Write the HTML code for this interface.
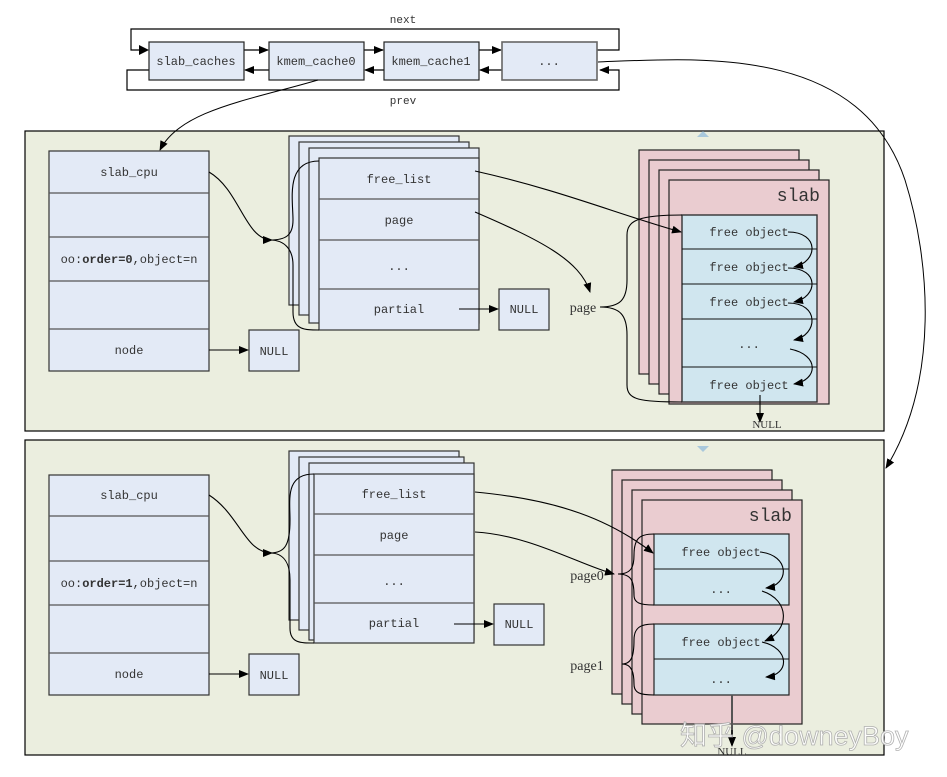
<!DOCTYPE html>
<html><head><meta charset="utf-8"><style>
html,body{margin:0;padding:0;background:#fff}
svg{display:block}
text{font-family:"Liberation Mono","Noto Sans CJK SC",monospace;font-size:12px;fill:#333}
</style></head><body>
<svg width="947" height="777" viewBox="0 0 947 777" xmlns="http://www.w3.org/2000/svg">
<defs>
<marker id="a" markerWidth="10" markerHeight="8" refX="9" refY="4" orient="auto" markerUnits="userSpaceOnUse"><path d="M0,0 L10,4 L0,8 Z" fill="#000"/></marker>
</defs>
<!-- top list -->
<g stroke="#000" stroke-width="1.2" fill="none">
<polyline points="147,50 131,50 131,29 619,29 619,50 597,50"/>
<polyline points="149,70 127,70 127,90 619,90 619,70 600,70" marker-end="url(#a)"/>
<line x1="244" y1="50" x2="268" y2="50" marker-end="url(#a)"/>
<line x1="364" y1="50" x2="383" y2="50" marker-end="url(#a)"/>
<line x1="479" y1="50" x2="501" y2="50" marker-end="url(#a)"/>
<line x1="269" y1="70" x2="245" y2="70" marker-end="url(#a)"/>
<line x1="384" y1="70" x2="365" y2="70" marker-end="url(#a)"/>
<line x1="502" y1="70" x2="480" y2="70" marker-end="url(#a)"/>
</g>
<path d="M139,45 L149,50 L139,55Z" fill="#000"/>
<g fill="#e3eaf6" stroke="#222" stroke-width="1.2">
<rect x="149" y="42" width="95" height="38"/><rect x="269" y="42" width="95" height="38"/>
<rect x="384" y="42" width="95" height="38"/><rect x="502" y="42" width="95" height="38" stroke="#666" stroke-width="1.6"/>
</g>
<text x="196" y="65" text-anchor="middle">slab_caches</text>
<text x="316" y="65" text-anchor="middle">kmem_cache0</text>
<text x="431" y="65" text-anchor="middle">kmem_cache1</text>
<text x="549" y="65" text-anchor="middle">...</text>
<text x="403" y="23" text-anchor="middle" style="font-size:11px">next</text>
<text x="403" y="104" text-anchor="middle" style="font-size:11px">prev</text>

<!-- panels -->
<rect x="25" y="131" width="859" height="300" fill="#ebeedf" stroke="#000" stroke-width="1.2"/>
<rect x="25" y="440" width="859" height="315" fill="#ebeedf" stroke="#000" stroke-width="1.2"/>
<path d="M697,137 L703,131 L709,137Z" fill="#a9c8dc"/>
<path d="M697,446 L703,452 L709,446Z" fill="#a9c8dc"/>
<path d="M318,80 C250,100 180,110 160,150" stroke="#000" fill="none" marker-end="url(#a)"/>
<path d="M598,62 C700,58 860,45 905,180 C930,260 940,380 886,468" stroke="#000" fill="none" marker-end="url(#a)"/>

<!-- panel1 left -->
<g fill="#e3eaf6" stroke="#333" stroke-width="1.2">
<rect x="49" y="151" width="160" height="220"/>
<rect x="249" y="330" width="50" height="41"/>
<rect x="499" y="289" width="50" height="41"/>
<rect x="289" y="136" width="170" height="169"/>
<rect x="299" y="142" width="170" height="173"/>
<rect x="309" y="148" width="170" height="175"/>
<rect x="319" y="158" width="160" height="172"/>
</g>
<g stroke="#555" stroke-width="1.2"><line x1="49" y1="193" x2="209" y2="193"/><line x1="49" y1="237" x2="209" y2="237"/><line x1="49" y1="281" x2="209" y2="281"/><line x1="49" y1="329" x2="209" y2="329"/>
<line x1="319" y1="199" x2="479" y2="199"/><line x1="319" y1="240" x2="479" y2="240"/><line x1="319" y1="289" x2="479" y2="289"/></g>
<text x="129" y="176" text-anchor="middle">slab_cpu</text>
<text x="129" y="263" text-anchor="middle">oo:<tspan style="font-weight:bold">order=0</tspan>,object=n</text>
<text x="129" y="354" text-anchor="middle">node</text>
<text x="274" y="355" text-anchor="middle">NULL</text>
<text x="524" y="313" text-anchor="middle">NULL</text>
<text x="399" y="183" text-anchor="middle">free_list</text>
<text x="399" y="224" text-anchor="middle">page</text>
<text x="399" y="270" text-anchor="middle">...</text>
<text x="399" y="313" text-anchor="middle">partial</text>
<!-- slab1 -->
<g fill="#eaccd0" stroke="#222" stroke-width="1.2">
<rect x="639" y="150" width="160" height="224"/><rect x="649" y="160" width="160" height="224"/>
<rect x="659" y="170" width="160" height="224"/><rect x="669" y="180" width="160" height="224"/>
</g>
<text x="820" y="201" text-anchor="end" style="font-size:18px">slab</text>
<rect x="682" y="215" width="135" height="187" fill="#d0e6ef" stroke="#333" stroke-width="1.4"/>
<g stroke="#111"><line x1="682" y1="249" x2="817" y2="249"/><line x1="682" y1="284" x2="817" y2="284"/><line x1="682" y1="319" x2="817" y2="319"/><line x1="682" y1="367" x2="817" y2="367"/></g>
<text x="749" y="236" text-anchor="middle">free object</text>
<text x="749" y="271" text-anchor="middle">free object</text>
<text x="749" y="306" text-anchor="middle">free object</text>
<text x="749" y="348" text-anchor="middle">...</text>
<text x="749" y="389" text-anchor="middle">free object</text>
<text x="583" y="312" text-anchor="middle" style="font-family:'Liberation Serif',serif;font-size:14px">page</text>
<text x="767" y="428" text-anchor="middle" style="font-family:'Liberation Serif',serif;font-size:11px">NULL</text>
<g stroke="#000" fill="none" stroke-width="1.1">
<line x1="209" y1="350" x2="248" y2="350" marker-end="url(#a)"/>
<line x1="459" y1="309" x2="498" y2="309" marker-end="url(#a)"/>
<path d="M209,172 C240,190 245,240 272,240" marker-end="url(#a)"/>
<path d="M319,161 C285,161 293,200 293,220 C293,236 285,240 270,240 C285,240 293,250 293,265 L293,312 C293,330 305,330 319,330"/>
<path d="M475,171 C560,190 620,215 681,232" marker-end="url(#a)"/>
<path d="M475,212 C540,240 580,260 590,292" marker-end="url(#a)"/>
<path d="M600,307 C620,307 627,300 627,280 L627,235 C627,220 640,215 682,215"/>
<path d="M600,307 C620,307 627,315 627,335 L627,385 C627,400 640,402 682,402"/>
<path d="M788,232 C820,232 818,262 794,267" marker-end="url(#a)"/>
<path d="M788,268 C820,268 818,297 794,302" marker-end="url(#a)"/>
<path d="M788,303 C820,303 818,335 794,340" marker-end="url(#a)"/>
<path d="M790,349 C820,355 818,380 794,384" marker-end="url(#a)"/>
<line x1="760" y1="395" x2="760" y2="422" marker-end="url(#a)"/>
</g>

<!-- panel2 left -->
<g fill="#e3eaf6" stroke="#333" stroke-width="1.2">
<rect x="49" y="475" width="160" height="220"/>
<rect x="249" y="654" width="50" height="41"/>
<rect x="494" y="604" width="50" height="41"/>
<rect x="289" y="451" width="170" height="169"/>
<rect x="299" y="457" width="165" height="173"/>
<rect x="309" y="463" width="165" height="177"/>
<rect x="314" y="474" width="160" height="169"/>
</g>
<g stroke="#555" stroke-width="1.2"><line x1="49" y1="516" x2="209" y2="516"/><line x1="49" y1="561" x2="209" y2="561"/><line x1="49" y1="605" x2="209" y2="605"/><line x1="49" y1="653" x2="209" y2="653"/>
<line x1="314" y1="514" x2="474" y2="514"/><line x1="314" y1="555" x2="474" y2="555"/><line x1="314" y1="603" x2="474" y2="603"/></g>
<text x="129" y="499" text-anchor="middle">slab_cpu</text>
<text x="129" y="587" text-anchor="middle">oo:<tspan style="font-weight:bold">order=1</tspan>,object=n</text>
<text x="129" y="678" text-anchor="middle">node</text>
<text x="274" y="679" text-anchor="middle">NULL</text>
<text x="519" y="628" text-anchor="middle">NULL</text>
<text x="394" y="498" text-anchor="middle">free_list</text>
<text x="394" y="539" text-anchor="middle">page</text>
<text x="394" y="585" text-anchor="middle">...</text>
<text x="394" y="627" text-anchor="middle">partial</text>
<!-- slab2 -->
<g fill="#eaccd0" stroke="#222" stroke-width="1.2">
<rect x="612" y="470" width="160" height="224"/><rect x="622" y="480" width="160" height="224"/>
<rect x="632" y="490" width="160" height="224"/><rect x="642" y="500" width="160" height="224"/>
</g>
<text x="792" y="521" text-anchor="end" style="font-size:18px">slab</text>
<g fill="#d0e6ef" stroke="#222" stroke-width="1.2"><rect x="654" y="534" width="135" height="71"/><rect x="654" y="624" width="135" height="71"/></g>
<g stroke="#111"><line x1="654" y1="569" x2="789" y2="569"/><line x1="654" y1="659" x2="789" y2="659"/></g>
<text x="721" y="556" text-anchor="middle">free object</text>
<text x="721" y="593" text-anchor="middle">...</text>
<text x="721" y="646" text-anchor="middle">free object</text>
<text x="721" y="683" text-anchor="middle">...</text>
<text x="587" y="580" text-anchor="middle" style="font-family:'Liberation Serif',serif;font-size:14px">page0</text>
<text x="587" y="670" text-anchor="middle" style="font-family:'Liberation Serif',serif;font-size:14px">page1</text>
<g stroke="#000" fill="none" stroke-width="1.1">
<line x1="209" y1="674" x2="248" y2="674" marker-end="url(#a)"/>
<line x1="454" y1="624" x2="493" y2="624" marker-end="url(#a)"/>
<path d="M209,495 C240,515 245,553 272,553" marker-end="url(#a)"/>
<path d="M314,474 C285,474 290,500 290,520 C290,545 285,553 270,553 C285,553 290,565 290,580 L290,628 C290,643 300,643 314,643"/>
<path d="M475,492 C560,500 610,520 653,553" marker-end="url(#a)"/>
<path d="M475,532 C530,535 580,565 614,574" marker-end="url(#a)"/>
<path d="M618,574 C632,574 634,566 634,555 C634,538 640,534 654,534"/>
<path d="M618,574 C632,574 634,582 634,595 C634,603 640,605 654,605"/>
<path d="M622,664 C632,664 634,655 634,640 C634,628 640,624 654,624"/>
<path d="M622,664 C632,664 634,673 634,684 C634,693 640,695 654,695"/>
<path d="M760,552 C790,555 790,585 766,588" marker-end="url(#a)"/>
<path d="M762,591 C790,600 790,630 765,641" marker-end="url(#a)"/>
<path d="M762,642 C790,648 790,675 766,677" marker-end="url(#a)"/>
<line x1="732" y1="695" x2="732" y2="745" stroke="#555" stroke-width="2"/>
<line x1="732" y1="730" x2="732" y2="746" marker-end="url(#a)"/>
</g>
<text x="732" y="755" text-anchor="middle" style="font-family:'Liberation Serif',serif;font-size:11px">NULL</text>
<text x="680" y="745" style="font-family:'Liberation Sans','Noto Sans CJK SC',sans-serif;font-size:27px;fill:#fff;stroke:#aaa;stroke-width:0.8;opacity:0.9">知乎 @downeyBoy</text>
</svg>
</body></html>
